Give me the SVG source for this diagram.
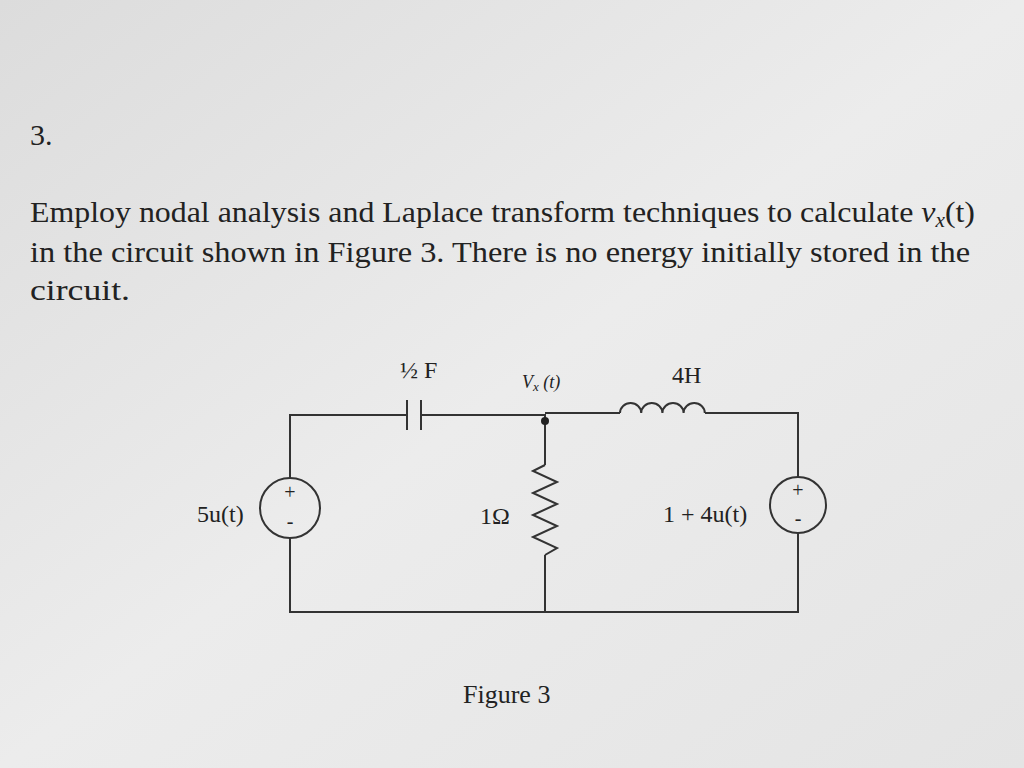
<svg xmlns="http://www.w3.org/2000/svg" width="1024" height="768" viewBox="0 0 1024 768">
<defs><linearGradient id="bg" x1="0" y1="0" x2="1" y2="1"><stop offset="0" stop-color="#dcdcdc"/><stop offset="0.5" stop-color="#ececec"/><stop offset="1" stop-color="#e4e4e4"/></linearGradient></defs>
<style>
.t{font-family:"Liberation Serif",serif;fill:#222}
.w{fill:none;stroke:#333;stroke-width:2}
</style>
<rect width="1024" height="768" fill="url(#bg)"/>
<text class="t" x="30" y="145" font-size="30">3.</text>
<text class="t" x="30" y="222" font-size="30" textLength="945" lengthAdjust="spacingAndGlyphs">Employ nodal analysis and Laplace transform techniques to calculate <tspan font-style="italic">v<tspan font-size="20" dy="5">x</tspan></tspan><tspan dy="-5">(t)</tspan></text>
<text class="t" x="30" y="262" font-size="30" textLength="940" lengthAdjust="spacingAndGlyphs">in the circuit shown in Figure 3. There is no energy initially stored in the</text>
<text class="t" x="30" y="300" font-size="30" textLength="100" lengthAdjust="spacingAndGlyphs">circuit.</text>
<g id="connectors">
<path class="w" d="M290,478 V415 H407 M421,415 H545 V465 M545,555 V612 M290,538 V612 H798 V533 M798,477 V413 H705 M620,413 H545"/>
<path class="w" d="M407,400 V430 M421,400 V430"/>
<path class="w" d="M545,465 l-12,6 l24,11 l-24,11 l24,11 l-24,11 l24,11 l-24,11 l24,11 l-12,7"/>
<path class="w" d="M620,413 a10.6,10 0 0 1 21.2,0 a10.6,10 0 0 1 21.2,0 a10.6,10 0 0 1 21.2,0 a10.6,10 0 0 1 21.2,0"/>
<circle cx="545" cy="421" r="4" fill="#222"/>
</g>
<g id="src1"><circle class="w" cx="290" cy="508" r="30"/><text class="t" x="290" y="499" font-size="20" text-anchor="middle">+</text><text class="t" x="290" y="528" font-size="20" text-anchor="middle">-</text></g>
<g id="src2"><circle class="w" cx="798" cy="505" r="28"/><text class="t" x="798" y="497" font-size="20" text-anchor="middle">+</text><text class="t" x="798" y="525" font-size="20" text-anchor="middle">-</text></g>
<text class="t" x="400" y="378" font-size="24">½ F</text>
<text class="t" x="522" y="388" font-size="18" font-style="italic">V<tspan font-size="13" dy="3">x</tspan><tspan dy="-3"> (t)</tspan></text>
<text class="t" x="672" y="383" font-size="24">4H</text>
<text class="t" x="197" y="522" font-size="24">5u(t)</text>
<text class="t" x="480" y="524" font-size="24">1Ω</text>
<text class="t" x="663" y="522" font-size="24">1 + 4u(t)</text>
<text class="t" x="463" y="703" font-size="26">Figure 3</text>
</svg>
